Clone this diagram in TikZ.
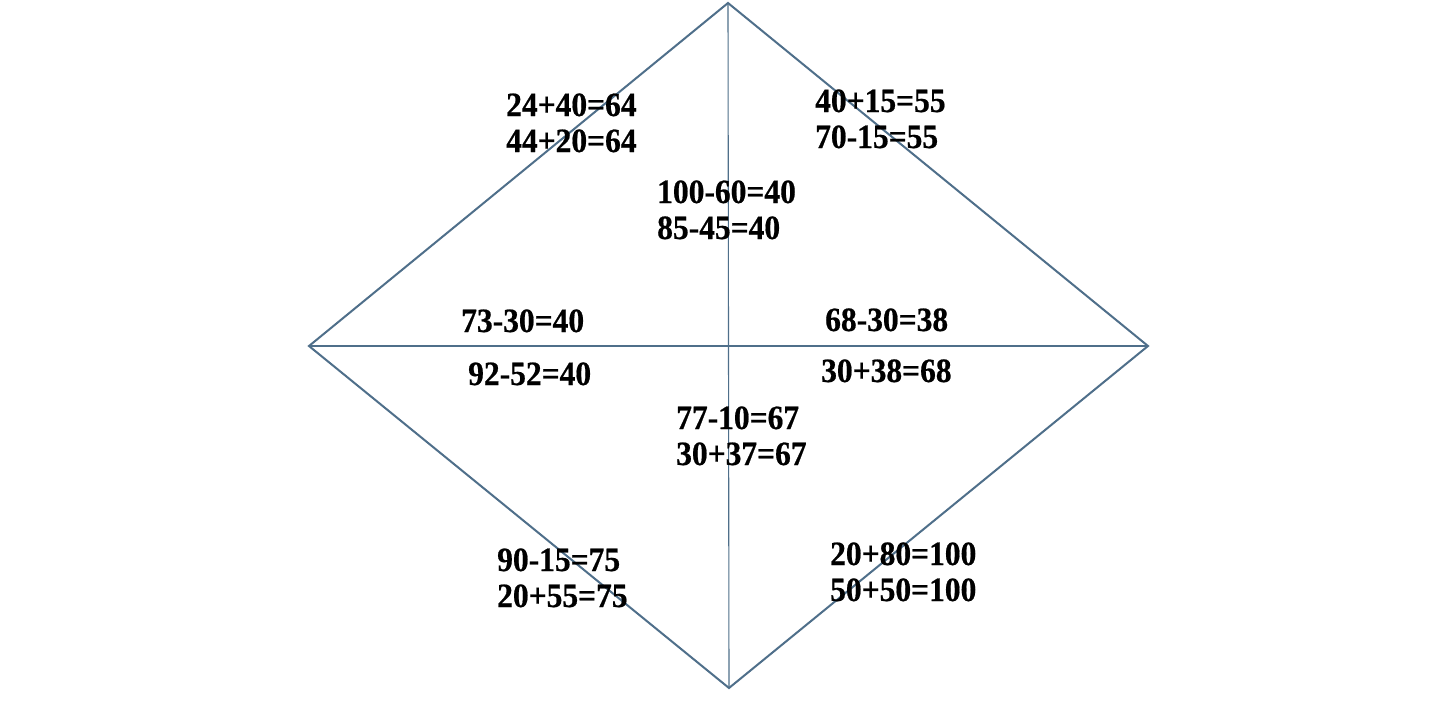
\documentclass[tikz,border=0pt]{standalone}
\usepackage{fontspec}
\setmainfont{Liberation Serif}
\newfontfamily\eqfont[FakeBold=0.6]{Liberation Serif}
\definecolor{edge}{HTML}{4F6F8A}
\newcommand{\eqtext}[1]{\scalebox{1}[1.08]{#1}}
\begin{document}
\begin{tikzpicture}[x=1pt,y=-1pt,
  eq/.style={anchor=base west,inner sep=0pt,font=\fontsize{31.5}{36}\selectfont\eqfont\bfseries},
  outer/.style={draw=edge,line width=2pt,line join=miter},
  inner/.style={draw=edge,line width=1.1pt}]
\useasboundingbox[fill=white] (0,0) rectangle (1444,718);
\coordinate (T) at (728,3);
\coordinate (L) at (309,346);
\coordinate (R) at (1148,346);
\coordinate (B) at (729,688);
\draw[inner] (T) -- (B);
\draw[inner] (L) -- (R);
\draw[outer] (T) -- (R) -- (B) -- (L) -- cycle;
\node[eq] (a1) at (506,116) {\eqtext{24+40=64}};
\node[eq] (a2) at (506,152) {\eqtext{44+20=64}};
\node[eq] (b1) at (815,112) {\eqtext{40+15=55}};
\node[eq] (b2) at (815,148) {\eqtext{70-15=55}};
\node[eq] (c1) at (657,203) {\eqtext{100-60=40}};
\node[eq] (c2) at (657,239) {\eqtext{85-45=40}};
\node[eq] (d1) at (461,332) {\eqtext{73-30=40}};
\node[eq] (e1) at (825,331) {\eqtext{68-30=38}};
\node[eq] (f1) at (468,385) {\eqtext{92-52=40}};
\node[eq] (g1) at (821,382) {\eqtext{30+38=68}};
\node[eq] (h1) at (676,429) {\eqtext{77-10=67}};
\node[eq] (h2) at (676,465) {\eqtext{30+37=67}};
\node[eq] (i1) at (497,571) {\eqtext{90-15=75}};
\node[eq] (i2) at (497,607) {\eqtext{20+55=75}};
\node[eq] (j1) at (830,565) {\eqtext{20+80=100}};
\node[eq] (j2) at (830,601) {\eqtext{50+50=100}};
\end{tikzpicture}
\end{document}
